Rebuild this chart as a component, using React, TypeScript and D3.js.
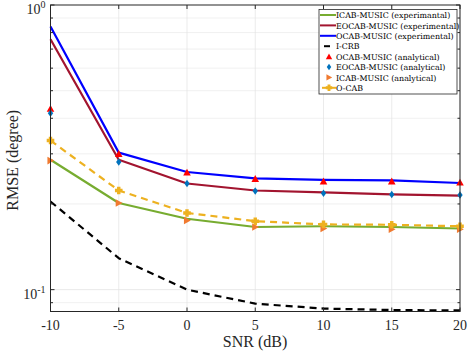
import React from "react";
import * as d3 from "d3";

const snr = [-10, -5, 0, 5, 10, 15, 20];
const icabExp = [0.286, 0.2015, 0.1775, 0.166, 0.167, 0.166, 0.164];
const eocabExp = [0.758, 0.286, 0.236, 0.223, 0.2195, 0.216, 0.214];
const ocabExp = [0.84, 0.303, 0.259, 0.246, 0.243, 0.242, 0.237];
const icrb = [0.204, 0.129, 0.1, 0.0893, 0.0858, 0.0848, 0.0845];
const ocabAna = [0.432, 0.3, 0.258, 0.245, 0.24, 0.24, 0.238];
const eocabAna = [0.417, 0.281, 0.236, 0.222, 0.218, 0.216, 0.215];
const icabAna = [0.284, 0.2015, 0.175, 0.166, 0.164, 0.163, 0.163];
const ocab = [0.334, 0.223, 0.186, 0.174, 0.1695, 0.169, 0.167];
const xTicks = [-10, -5, 0, 5, 10, 15, 20];
const legendLabels = [
  "ICAB-MUSIC (experimantal)",
  "EOCAB-MUSIC (experimental)",
  "OCAB-MUSIC (experimental)",
  "I-CRB",
  "OCAB-MUSIC (analytical)",
  "EOCAB-MUSIC (analytical)",
  "ICAB-MUSIC (analytical)",
  "O-CAB",
];

const W = 474, H = 351;
const L = 50.5, R = 460, T = 5, B = 311.5;
const FONT = "'Liberation Serif', 'DejaVu Serif', serif";
const LFONT = "'DejaVu Serif', serif";

type Marker = "none" | "up" | "diamond" | "right" | "star";
type Series = { values: number[]; color: string; dash?: string; line: boolean; marker: Marker };

const series: Series[] = [
  { values: icabExp, color: "#77AC30", line: true, marker: "none" },
  { values: eocabExp, color: "#A2142F", line: true, marker: "none" },
  { values: ocabExp, color: "#0000FF", line: true, marker: "none" },
  { values: icrb, color: "#000000", dash: "7,5", line: true, marker: "none" },
  { values: ocabAna, color: "#FF0000", line: false, marker: "up" },
  { values: eocabAna, color: "#0072BD", line: false, marker: "diamond" },
  { values: icabAna, color: "#F07A30", line: false, marker: "right" },
  { values: ocab, color: "#EDB120", dash: "7,5", line: true, marker: "star" },
];

function markerPath(m: Marker, x: number, y: number, s: number): string {
  switch (m) {
    case "up":
      return `M${x},${y - s}L${x + s},${y + s * 0.8}L${x - s},${y + s * 0.8}Z`;
    case "diamond":
      return `M${x},${y - s}L${x + s * 0.7},${y}L${x},${y + s}L${x - s * 0.7},${y}Z`;
    case "right":
      return `M${x + s},${y}L${x - s * 0.8},${y - s}L${x - s * 0.8},${y + s}Z`;
    case "star": {
      const a = s * 0.45;
      return `M${x - a},${y - s}H${x + a}V${y - a}H${x + s}V${y + a}H${x + a}V${y + s}H${x - a}V${y + a}H${x - s}V${y - a}H${x - a}Z`;
    }
    default:
      return "";
  }
}

export default function App() {
  const x = d3.scaleLinear().domain([-10, 20]).range([L, R]);
  const y = d3.scaleLog().domain([0.0838, 1]).range([B, T]);
  const line = d3
    .line<number>()
    .x((_, i) => x(snr[i]))
    .y((d) => y(d));

  const minorTicks = [0.09, 0.2, 0.3, 0.4, 0.5, 0.6, 0.7, 0.8, 0.9];

  const lgX = 319, lgY = 9.5, lgW = 138, lgH = 84.5, rowH = 10.4;

  return (
    <svg width={W} height={H} style={{ position: "absolute", left: 0, top: 0, background: "#fff" }}>
      <rect x={0} y={0} width={W} height={H} fill="#fff" />
      {minorTicks.map((v, i) => (
        <line key={"mg" + i} x1={L} x2={R} y1={y(v)} y2={y(v)} stroke="#e6e6e6" strokeWidth={0.6} />
      ))}
      <line x1={L} x2={R} y1={y(0.1)} y2={y(0.1)} stroke="#dedede" strokeWidth={0.7} />
      {xTicks.map((t, i) => (
        <line key={"xg" + i} x1={x(t)} x2={x(t)} y1={T} y2={B} stroke="#e3e3e3" strokeWidth={0.7} />
      ))}
      {series.map((s, si) =>
        s.line ? (
          <path
            key={"l" + si}
            d={line(s.values) || ""}
            fill="none"
            stroke={s.color}
            strokeWidth={2.2}
            strokeDasharray={s.dash}
            strokeLinejoin="round"
          />
        ) : null
      )}
      {series.map((s, si) =>
        s.marker !== "none"
          ? s.values.map((v, i) => (
              <path key={"m" + si + "-" + i} d={markerPath(s.marker, x(snr[i]), y(v), 3.8)} fill={s.color} />
            ))
          : null
      )}
      <rect x={L} y={T} width={R - L} height={B - T} fill="none" stroke="#262626" strokeWidth={1} />
      {xTicks.map((t, i) => (
        <g key={"xt" + i}>
          <line x1={x(t)} x2={x(t)} y1={B} y2={B - 4} stroke="#262626" />
          <line x1={x(t)} x2={x(t)} y1={T} y2={T + 4} stroke="#262626" />
          <text x={x(t)} y={330} textAnchor="middle" fontFamily={FONT} fontSize={14} fill="#262626">
            {t}
          </text>
        </g>
      ))}
      {minorTicks.map((v, i) => (
        <g key={"yt" + i}>
          <line x1={L} x2={L + 2.5} y1={y(v)} y2={y(v)} stroke="#262626" />
          <line x1={R} x2={R - 2.5} y1={y(v)} y2={y(v)} stroke="#262626" />
        </g>
      ))}
      {[0.1, 1].map((v, i) => (
        <g key={"yM" + i}>
          <line x1={L} x2={L + 4} y1={y(v)} y2={y(v)} stroke="#262626" />
          <line x1={R} x2={R - 4} y1={y(v)} y2={y(v)} stroke="#262626" />
          <text x={L - 5} y={y(v) + 9} textAnchor="end" fontFamily={FONT} fontSize={14} fill="#262626">
            10
            <tspan dy={-6} fontSize={10}>
              {v === 1 ? "0" : "-1"}
            </tspan>
          </text>
        </g>
      ))}
      <text x={255} y={347} textAnchor="middle" fontFamily={FONT} fontSize={16} fill="#262626">
        SNR (dB)
      </text>
      <text
        transform={`translate(18,${(T + B) / 2 + 2}) rotate(-90)`}
        textAnchor="middle"
        fontFamily={FONT}
        fontSize={16}
        fill="#262626"
      >
        RMSE (degree)
      </text>
      <rect x={lgX} y={lgY} width={lgW} height={lgH} fill="#fff" stroke="#262626" strokeWidth={0.8} />
      {series.map((s, i) => {
        const cy = lgY + 5.5 + i * rowH;
        return (
          <g key={"lg" + i}>
            {s.line && s.marker === "none" && !s.dash && (
              <line x1={lgX + 1} x2={lgX + 17} y1={cy} y2={cy} stroke={s.color} strokeWidth={2} />
            )}
            {s.dash && s.marker === "none" && (
              <line x1={lgX + 5} x2={lgX + 11} y1={cy} y2={cy} stroke={s.color} strokeWidth={2} />
            )}
            {s.dash && s.marker !== "none" && (
              <line x1={lgX + 3} x2={lgX + 17} y1={cy} y2={cy} stroke={s.color} strokeWidth={2} />
            )}
            {s.marker !== "none" && <path d={markerPath(s.marker, lgX + 10, cy, 3.2)} fill={s.color} />}
            <text x={lgX + 17} y={cy + 3.1} fontFamily={LFONT} fontSize={7.9} fill="#000">
              {legendLabels[i]}
            </text>
          </g>
        );
      })}
    </svg>
  );
}
